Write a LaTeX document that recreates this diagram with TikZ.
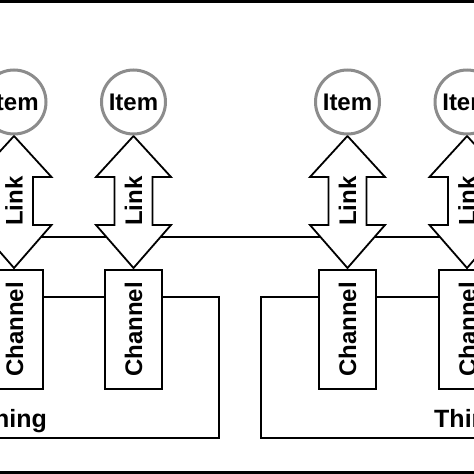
\documentclass[tikz,border=0pt]{standalone}
\usepackage{fontspec}
\setmainfont{Liberation Sans}
\definecolor{ringgray}{RGB}{140,140,140}
\begin{document}
\begin{tikzpicture}[x=1pt,y=-1pt,
  thin line/.style={line width=1.8pt, black},
  itemnode/.style={circle, draw=ringgray, line width=3pt, fill=white, minimum size=64pt, inner sep=0pt,
    font=\bfseries\fontsize{24}{24}\selectfont},
  channode/.style={draw, line width=1.8pt, fill=white, minimum width=57pt, minimum height=119pt, inner sep=0pt},
  vlabel/.style={rotate=90, inner sep=0pt, font=\bfseries\fontsize{24}{24}\selectfont},
  thinglabel/.style={inner sep=0pt, font=\bfseries\fontsize{25}{25}\selectfont},
  linkshape/.style={draw, line width=1.8pt, fill=white, line join=miter},
]
\useasboundingbox (0,0) rectangle (474,474);
\clip (0,0) rectangle (474,474);
\fill[white] (0,0) rectangle (474,474);
% border bands
\fill[black] (0,0) rectangle (474,2.5);
\fill[black] (0,471) rectangle (474,474);
% horizontal bus line
\coordinate (busL) at (-10,237);
\coordinate (busR) at (484,237);
\draw[thin line] (busL) -- (busR);
% thing frames
\draw[thin line] (-20,297) -- (219,297) -- (219,438) -- (-20,438);
\draw[thin line] (494,297) -- (261,297) -- (261,438) -- (494,438);
% link arrows
\foreach \c/\n in {14/1,133.5/2,347.5/3,467/4}{
  \draw[linkshape] (\c,136) -- ++(37.5,41) -- ++(-18.5,0) -- ++(0,48) -- ++(18.5,0)
     -- (\c,268) -- ++(-37.5,-43) -- ++(18.5,0) -- ++(0,-48) -- ++(-18.5,0) -- cycle;
  \node[vlabel] (link\n) at (\c,201) {Link};
}
% channels
\node[channode] (ch1) at (14.5,329.5) {};
\node[channode] (ch2) at (133.5,329.5) {};
\node[channode] (ch3) at (347.5,329.5) {};
\node[channode] (ch4) at (467.5,329.5) {};
\foreach \n in {1,2,3,4}{
  \node[vlabel] (chl\n) at (ch\n) {Channel};
}
% items
\node[itemnode] (item1) at (14,102) {Item};
\node[itemnode] (item2) at (133.5,102) {Item};
\node[itemnode] (item3) at (347.5,102) {Item};
\node[itemnode] (item4) at (467,102) {Item};
% thing labels
\node[thinglabel, anchor=base east] (thingL) at (47,427) {Thing};
\node[thinglabel, anchor=base west] (thingR) at (434,427) {Thing};
\end{tikzpicture}
\end{document}
